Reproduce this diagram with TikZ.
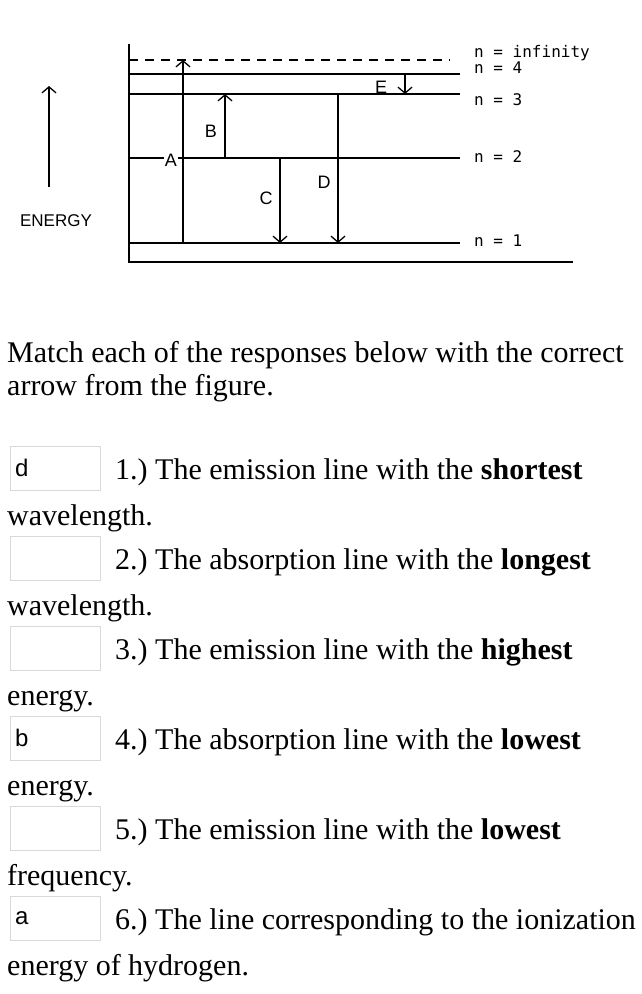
\documentclass[tikz,border=0pt]{standalone}
\usepackage{fontspec}
\setmainfont{Liberation Serif}
\newfontfamily\sansf{Liberation Sans}
\newfontfamily\monof{DejaVu Sans Mono}
\frenchspacing
\begin{document}
\begin{tikzpicture}[x=1pt,y=-1pt,
  lvl/.style={line width=1.3pt},
  tr/.style={line width=1.3pt,-{Straight Barb[length=6pt,width=14pt]}},
  lab/.style={font=\sansf\fontsize{18}{18}\selectfont,inner sep=0pt},
  nl/.style={font=\monof\fontsize{16}{16}\selectfont,anchor=west,inner sep=0pt},
  body/.style={font=\fontsize{30}{30}\selectfont,anchor=base west,inner sep=0pt},
  ans/.style={draw=black!15,minimum width=90pt,minimum height=44pt,anchor=north west,inner sep=0pt,font=\sansf\fontsize{24}{24}\selectfont,text width=80pt,align=left}]
\useasboundingbox (0,0) rectangle (642,994);
\usetikzlibrary{arrows.meta}
% axes
\draw[lvl] (129,44) -- (129,262) -- (573,262);
\draw[lvl] (129,243) -- (460,243);
\draw[lvl] (129,158) -- (460,158);
\draw[lvl] (129,94) -- (460,94);
\draw[lvl] (129,74) -- (460,74);
\draw[lvl,dash pattern=on 9pt off 7pt] (129,60) -- (450,60);
\node[nl] (ninf) at (474,53) {n = infinity};
\node[nl] (n4) at (474,68) {n = 4};
\node[nl] (n3) at (474,100) {n = 3};
\node[nl] (n2) at (474,157) {n = 2};
\node[nl] (n1) at (474,241) {n = 1};
% transitions
\coordinate (a0) at (183,243); \coordinate (a1) at (183,60);
\draw[tr] (a0) -- (a1);
\coordinate (b0) at (225,158); \coordinate (b1) at (225,94);
\draw[tr] (b0) -- (b1);
\coordinate (c0) at (280,158); \coordinate (c1) at (280,243);
\draw[tr] (c0) -- (c1);
\coordinate (d0) at (338,94); \coordinate (d1) at (338,243);
\draw[tr] (d0) -- (d1);
\coordinate (e0) at (405,74); \coordinate (e1) at (405,94);
\draw[tr] (e0) -- (e1);
\node[lab,fill=white,inner xsep=1pt] (A) at (171,160) {A};
\node[lab] (B) at (211,131) {B};
\node[lab] (C) at (266,198) {C};
\node[lab] (D) at (324,182) {D};
\node[lab] (E) at (381,87) {E};
\coordinate (en0) at (49,187); \coordinate (en1) at (49,86);
\draw[tr] (en0) -- (en1);
\node[lab,font=\sansf\fontsize{17}{17}\selectfont] (energy) at (56,221) {ENERGY};
% text
\node[body] (t1) at (7,362) {Match each of the responses below with the correct};
\node[body] (t2) at (7,395) {arrow from the figure.};
\foreach \y/\a/\q/\b/\c/\w in {446/d/1.) The emission line with the /shortest//wavelength.,
 536//2.) The absorption line with the /longest//wavelength.,
 626//3.) The emission line with the /highest//energy.,
 716/b/4.) The absorption line with the /lowest//energy.,
 806//5.) The emission line with the /lowest//frequency.,
 896/a/6.) The line corresponding to the ionization/// energy of hydrogen.}{
  \node[ans] (box\y) at (10,\y) {\a};
  \node[body] (q\y) at (115,\y+33) {\q\textbf{\b}\c};
  \node[body] (w\y) at (7,\y+79) {\w};
}
\end{tikzpicture}
\end{document}
